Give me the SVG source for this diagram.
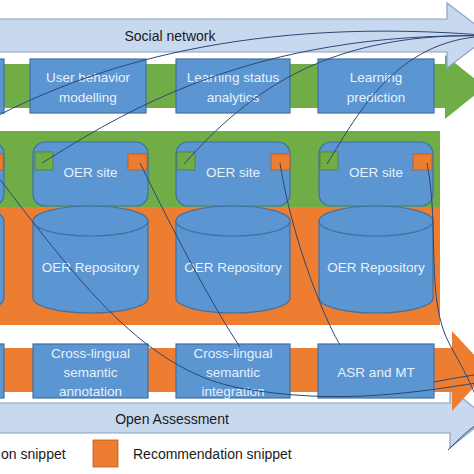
<svg xmlns="http://www.w3.org/2000/svg" width="474" height="474" viewBox="0 0 474 474">
<style>
.band{fill:#c8d9ef;stroke:#8aa2c4;stroke-width:1.2}
.box{fill:#5b96d2;stroke:#41709f;stroke-width:1.2}
.bt{font-family:"Liberation Sans",Arial,sans-serif;font-size:13.5px;fill:#e8f0fa;text-anchor:middle}
.lt{font-family:"Liberation Sans",Arial,sans-serif;font-size:14px;fill:#1a1a1a}
.gs{fill:#70ad47;stroke:#4f7f33;stroke-width:0.8}
.os{fill:#ed7d31;stroke:#b35c20;stroke-width:0.8}
.con{fill:none;stroke:#2c4675;stroke-width:1}
</style>
<rect width="474" height="474" fill="#ffffff"/>
<g id="open-assessment">
<polygon class="band" points="-5,403 450,403 450,388 487,418 450,448 450,433 -5,433"/>
<text class="lt" x="172" y="424" text-anchor="middle">Open Assessment</text>
</g>
<g id="orange-arrow">
<polygon fill="#ed7d31" points="-5,348 452,348 452,331 489,371 452,411 452,392 -5,392"/>
</g>
<g id="green-arrow">
<polygon fill="#70ad47" points="-5,64 445,64 445,55 485,87 445,119 445,108 -5,108"/>
</g>
<g id="social-network">
<polygon class="band" points="-5,19 447,19 447,3 490,35.5 447,68 447,52 -5,52"/>
<text class="lt" x="170" y="41" text-anchor="middle">Social network</text>
</g>
<rect x="-5" y="131" width="445" height="77" fill="#70ad47"/>
<rect x="-5" y="207" width="445" height="118" fill="#ed7d31"/>
<g id="top-left"><rect class="box" x="-20" y="59" width="24" height="54"/></g>
<g id="user-behavior"><rect class="box" x="30" y="59" width="116" height="54"/><text class="bt" x="88" y="82">User behavior</text><text class="bt" x="88" y="102">modelling</text></g>
<g id="learning-status"><rect class="box" x="176" y="59" width="114" height="54"/><text class="bt" x="233" y="82">Learning status</text><text class="bt" x="233" y="102">analytics</text></g>
<g id="learning-prediction"><rect class="box" x="318" y="59" width="116" height="54"/><text class="bt" x="376" y="82">Learning</text><text class="bt" x="376" y="102">prediction</text></g>
<g id="repo-0"><path class="box" d="M -80,221 A 42,15 0 0 1 4,221 L 4,298 A 42,15 0 0 1 -80,298 Z"/></g>
<g id="repo-1"><path class="box" d="M 33,221 A 57.5,15 0 0 1 148,221 L 148,298 A 57.5,15 0 0 1 33,298 Z"/><path class="box" fill="none" d="M 33,221 A 57.5,15 0 0 0 148,221"/><text class="bt" x="90.5" y="272">OER Repository</text></g>
<g id="repo-2"><path class="box" d="M 176,221 A 57,15 0 0 1 290,221 L 290,298 A 57,15 0 0 1 176,298 Z"/><path class="box" fill="none" d="M 176,221 A 57,15 0 0 0 290,221"/><text class="bt" x="233" y="272">OER Repository</text></g>
<g id="repo-3"><path class="box" d="M 319,221 A 57,15 0 0 1 433,221 L 433,298 A 57,15 0 0 1 319,298 Z"/><path class="box" fill="none" d="M 319,221 A 57,15 0 0 0 433,221"/><text class="bt" x="376" y="272">OER Repository</text></g>
<g id="site-0"><rect class="box" x="-80" y="142" width="84" height="64" rx="12"/><rect class="os" x="-12" y="154" width="15" height="16"/></g>
<g id="site-1"><rect class="box" x="33" y="142" width="115" height="64" rx="12"/><rect class="gs" x="35" y="152" width="18" height="18"/><rect class="os" x="128" y="154" width="19" height="16"/><text class="bt" x="90.5" y="177">OER site</text></g>
<g id="site-2"><rect class="box" x="176" y="142" width="114" height="64" rx="12"/><rect class="gs" x="177" y="152" width="18" height="18"/><rect class="os" x="271" y="154" width="19" height="16"/><text class="bt" x="233" y="177">OER site</text></g>
<g id="site-3"><rect class="box" x="319" y="142" width="114" height="64" rx="12"/><rect class="gs" x="320" y="152" width="18" height="18"/><rect class="os" x="413" y="154" width="19" height="16"/><text class="bt" x="376" y="177">OER site</text></g>
<g id="bottom-left"><rect class="box" x="-20" y="344" width="24" height="54"/></g>
<g id="annotation"><rect class="box" x="33" y="344" width="115" height="54"/><text class="bt" x="90.5" y="358">Cross-lingual</text><text class="bt" x="90.5" y="377">semantic</text><text class="bt" x="90.5" y="396">annotation</text></g>
<g id="integration"><rect class="box" x="176" y="344" width="114" height="54"/><text class="bt" x="233" y="358">Cross-lingual</text><text class="bt" x="233" y="377">semantic</text><text class="bt" x="233" y="396">integration</text></g>
<g id="asr-mt"><rect class="box" x="318" y="344" width="116" height="54"/><text class="bt" x="376" y="377">ASR and MT</text></g>
<g id="connectors">
<path class="con" d="M -20,125 C 90,65 250,15 495,36"/>
<path class="con" d="M 42,163 C 120,115 250,30 495,36"/>
<path class="con" d="M 184,164 C 250,90 330,30 495,36"/>
<path class="con" d="M 327,164 C 360,110 400,35 495,36"/>
<path class="con" d="M -15,160 C 70,270 140,370 240,388 S 420,392 495,380"/>
<path class="con" d="M 140,163 C 175,235 215,310 240,347"/>
<path class="con" d="M 280,163 C 292,240 325,320 340,345"/>
<path class="con" d="M 427,163 C 440,230 425,300 450,345 S 470,385 478,400"/>
<path class="con" d="M 434,382 C 450,379 465,376 495,372"/>
<path class="con" d="M 448,450 C 458,440 466,432 476,425"/>
</g>
<g id="legend">
<text class="lt" x="1" y="459">on snippet</text>
<rect class="os" x="93" y="440" width="25" height="27"/>
<text class="lt" x="133" y="459">Recommendation snippet</text>
</g>
</svg>
